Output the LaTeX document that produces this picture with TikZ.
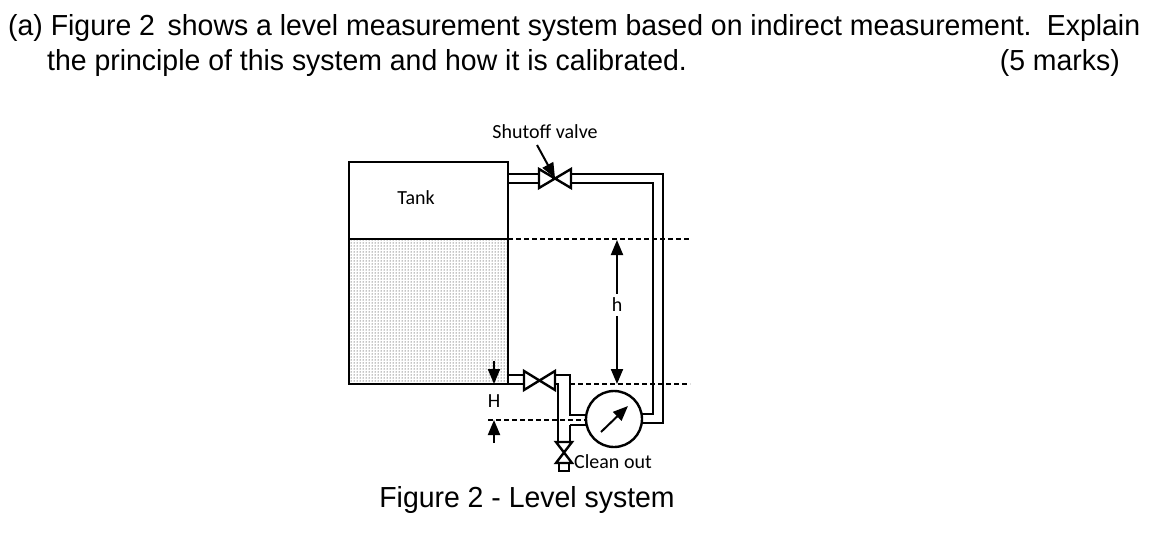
\documentclass[tikz,border=0pt]{standalone}
\usepackage{fontspec}
\setmainfont{Liberation Sans}
\newfontfamily\lab{Carlito}
\usetikzlibrary{patterns,arrows.meta}
\begin{document}
\begin{tikzpicture}[x=1pt,y=-1pt,
  pipe/.style={line width=2.4pt},
  dsh/.style={line width=1.5pt,dash pattern=on 5pt off 3pt},
  tip/.style={-{Triangle[length=15pt,width=12pt]},line width=2pt},
  lbl/.style={font=\lab\fontsize{20}{22}\selectfont,inner sep=0pt}]
\useasboundingbox (0,0) rectangle (1159,549);
% title
\node[anchor=west,inner sep=0pt,font=\fontsize{29}{32}\selectfont] (t1) at (8,28) {\scalebox{0.98}[1]{(a) Figure 2\, shows a level measurement system based on indirect measurement.\, Explain}};
\node[anchor=west,inner sep=0pt,font=\fontsize{29}{32}\selectfont] (t2) at (47,63) {\scalebox{0.98}[1]{the principle of this system and how it is calibrated.}};
\node[anchor=east,inner sep=0pt,font=\fontsize{29}{32}\selectfont] (t3) at (1120,63) {\scalebox{0.98}[1]{(5 marks)}};
% liquid
\fill[pattern=dots,pattern color=black] (349,239) rectangle (508,384);
\draw[line width=2.6pt] (349,239) -- (508,239);
\draw[pipe] (349,162) rectangle (508,384);
\node[lbl] (tank) at (416,198) {Tank};
% top pipe
\draw[pipe] (508,174) -- (539,174) (508,183) -- (539,183);
\draw[pipe] (539,169) -- (539,188) -- (571,169) -- (571,188) -- cycle;
\draw[pipe] (571,174) -- (663,174) -- (663,423) -- (641,423);
\draw[pipe] (571,183) -- (653,183) -- (653,414) -- (641,414);
\node[lbl] (sv) at (545,132) {Shutoff valve};
\coordinate (vt) at (555,178);
\draw[tip] (537,145) -- (vt);
% dashed lines
\draw[dsh] (508,239) -- (690,239);
\draw[dsh] (570,384) -- (690,384);
\draw[dsh] (488,420) -- (586,420);
% h
\coordinate (h1) at (617,240); \coordinate (h2) at (617,384);
\node[lbl,inner sep=4pt] (h) at (617,305) {h};
\draw[tip] (h) -- (h1);
\draw[tip] (h) -- (h2);
% H
\node[lbl] (H) at (494,401) {H};
\draw[tip] (494,361) -- (494,384);
\draw[tip] (494,443) -- (494,420);
% bottom pipe
\draw[pipe] (508,375) -- (524,375) (508,384) -- (524,384);
\draw[pipe] (524,371) -- (524,390) -- (555,371) -- (555,390) -- cycle;
\draw[pipe] (555,375) -- (570,375) -- (570,415) -- (586,415);
\draw[pipe] (555,384) -- (558,384) -- (558,442);
\draw[pipe] (570,425) -- (586,425);
\draw[pipe] (570,425) -- (570,442);
% gauge
\node[circle,draw,line width=2.4pt,minimum size=56pt,inner sep=0pt] (g) at (614,419) {};
\draw[tip] (601,432) -- (628,406);
% clean out valve
\draw[pipe] (556,442) -- (572,442) -- (556,463) -- (572,463) -- cycle;
\draw[pipe] (559,463) rectangle (569,471);
\node[lbl,anchor=west] (co) at (574,462) {Clean out};
% caption
\node[inner sep=0pt,font=\fontsize{29}{31}\selectfont] (cap) at (527,500) {\scalebox{0.98}[1]{Figure 2 - Level system}};
\end{tikzpicture}
\end{document}
